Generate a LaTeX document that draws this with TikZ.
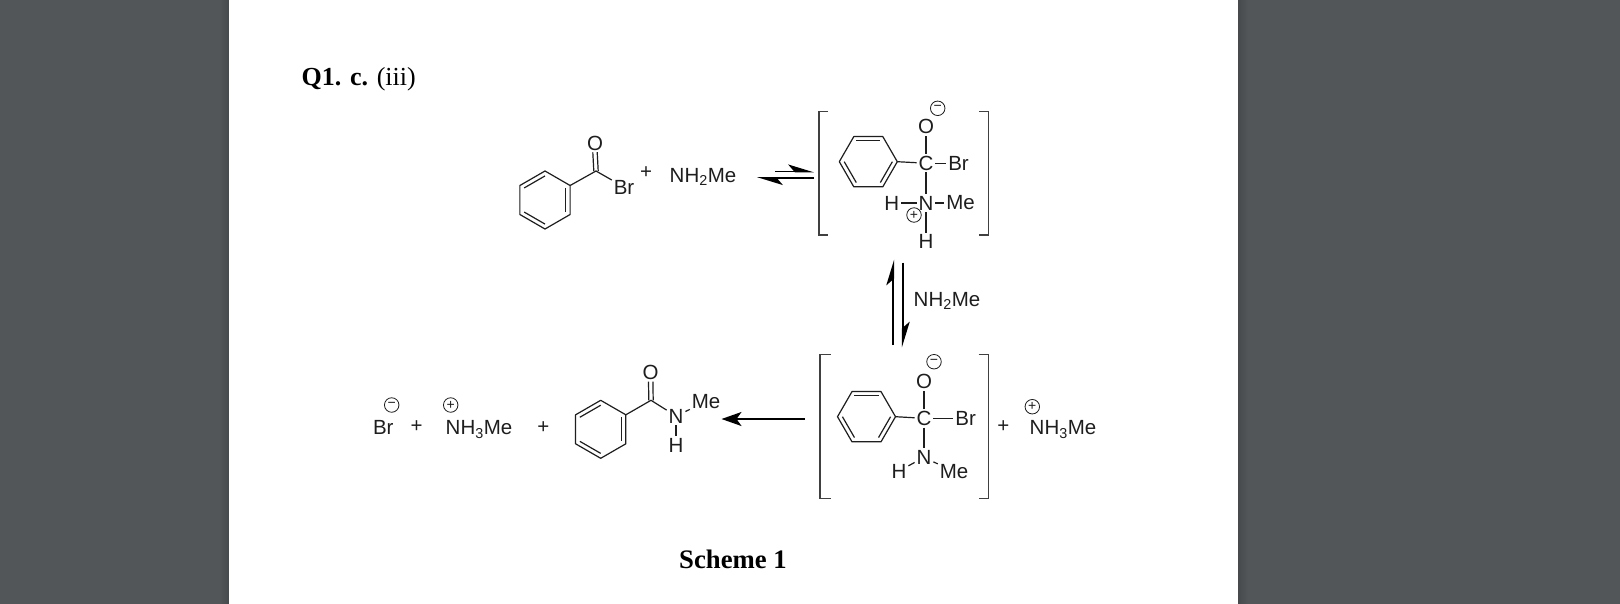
\documentclass[tikz,border=0pt]{standalone}
\usepackage{fontspec}
\setmainfont{Liberation Serif}
\newfontfamily\chemfont{Liberation Sans}
\usetikzlibrary{calc,arrows.meta}
\definecolor{viewer}{HTML}{525659}
\definecolor{viewerdark}{HTML}{464A4D}
\definecolor{ink}{HTML}{1E1E1E}
\tikzset{
  x=1pt,y=-1pt,
  atom/.style={font=\chemfont\fontsize{20.5}{22}\selectfont,text=ink,inner sep=1.8pt},
  plain/.style={font=\chemfont\fontsize{20.5}{22}\selectfont,text=ink,inner sep=0pt},
  charge/.style={circle,draw=ink,line width=.8pt,inner sep=0pt,minimum size=14.5pt,text=ink,font=\chemfont\fontsize{14}{14}\selectfont},
  bond/.style={draw=ink,line width=1.2pt},
  brk/.style={draw=ink!85,line width=1.3pt},
  rxn/.style={draw=black,line width=1.7pt},
  headline/.style={font=\fontsize{26}{30}\selectfont,text=black,inner sep=0pt},
}
% \ring{name}{cx}{cy}{radius}{start angle}: hexagon with three inner double-bond lines
\newcommand{\ring}[5]{%
  \coordinate (#1c) at (#2,#3);
  \foreach \i in {0,...,5}{\coordinate (#1\i) at ($(#1c)+({#4*cos(#5+60*\i)},{#4*sin(#5+60*\i)})$);}
  \draw[bond,line join=round] (#10)--(#11)--(#12)--(#13)--(#14)--(#15)--cycle;
  \foreach \a/\b in {0/1,2/3,4/5}{\draw[bond] ($(#1\a)!.17!(#1c)$) -- ($(#1\b)!.17!(#1c)$);}
}
\newcommand{\dbl}[2]{%
  \draw[bond] ($(#1)!2.2pt!90:(#2)$) -- ($(#2.south)!2.2pt!-90:(#1)$);
  \draw[bond] ($(#1)!2.2pt!-90:(#2)$) -- ($(#2.south)!2.2pt!90:(#1)$);
}
\begin{document}
\begin{tikzpicture}
\useasboundingbox (0,0) rectangle (1620,603);
\fill[viewer] (-5,-5) rectangle (1625,610);
\shade[left color=viewer,right color=viewerdark] (219,-5) rectangle (229,610);
\shade[left color=viewerdark,right color=viewer] (1238,-5) rectangle (1248,610);
\fill[white] (229,-5) rectangle (1238,610);

\node[headline,anchor=base west] (title) at (301.5,85) {\textbf{Q1. c.} (iii)};
\node[headline,anchor=base,font=\fontsize{26.7}{30}\selectfont] (cap) at (733,568) {\textbf{Scheme 1}};

% --- benzoyl bromide
\ring{a}{545}{200}{29}{-30}
\coordinate (aC) at (596,171);
\node[atom] (aO) at (595,143) {O};
\node[atom] (aBr) at (624,187) {Br};
\draw[bond] (a0) -- (aC) -- (aBr);
\dbl{aC}{aO}
\node[plain] (plus1) at (646,173) {+};
\node[plain] (amine1) at (703,177) {NH\textsubscript{2}Me};

% --- equilibrium 1
\coordinate (e1a) at (775,171.5); \coordinate (e1b) at (814,171.5);
\coordinate (e1c) at (814,178); \coordinate (e1d) at (757,178);
\draw[rxn,-{Stealth[harpoon,length=23pt,width=14pt,inset=6pt]}] (e1a) -- (e1b);
\draw[rxn,-{Stealth[harpoon,length=23pt,width=14pt,inset=6pt]}] (e1c) -- (e1d);

% --- tetrahedral intermediate 1
\coordinate (b1l) at (828,111.5); \coordinate (b1L) at (819,111.5);
\coordinate (b2l) at (819,235); \coordinate (b3l) at (828,235);
\draw[brk] (b1l) -- (b1L) -- (b2l) -- (b3l);
\coordinate (b1r) at (979,111.5); \coordinate (b1R) at (988.5,111.5);
\coordinate (b2r) at (988.5,235); \coordinate (b3r) at (979,235);
\draw[brk] (b1r) -- (b1R) -- (b2r) -- (b3r);
\ring{b}{868.3}{161.7}{29}{0}
\node[atom] (bC) at (926,163.2) {C};
\node[atom] (bO) at (926,126.7) {O};
\node[charge] (bm) at (937.7,108.3) {−};
\node[atom] (bBr) at (958.5,163.2) {Br};
\node[atom] (bN) at (926,203) {N};
\node[atom] (bH) at (891.7,203) {H};
\node[atom] (bMe) at (960.5,203) {Me};
\node[charge] (bp) at (914,215) {+};
\node[atom] (bH2) at (926,241.7) {H};
\draw[bond] (b0) -- (bC);
\draw[bond] (bC) -- (bO);
\draw[bond] (bC) -- (bBr);
\draw[bond] (bC) -- (bN);
\draw[bond] (bH) -- (bN);
\draw[bond] (bN) -- (bMe);
\draw[bond] (bN) -- (bH2);

% --- equilibrium 2
\coordinate (e2a) at (893.3,345); \coordinate (e2b) at (893.3,259.5);
\coordinate (e2c) at (902.7,262.5); \coordinate (e2d) at (902.7,347.5);
\draw[rxn,-{Stealth[harpoon,length=23pt,width=14pt,inset=6pt]}] (e2a) -- (e2b);
\draw[rxn,-{Stealth[harpoon,length=23pt,width=14pt,inset=6pt]}] (e2c) -- (e2d);
\node[plain] (amine2) at (947,301) {NH\textsubscript{2}Me};

% --- tetrahedral intermediate 2
\coordinate (c1l) at (830.5,354.5); \coordinate (c1L) at (820,354.5);
\coordinate (c2l) at (820,498.5); \coordinate (c3l) at (830.5,498.5);
\draw[brk] (c1l) -- (c1L) -- (c2l) -- (c3l);
\coordinate (c1r) at (978.5,354.5); \coordinate (c1R) at (988.5,354.5);
\coordinate (c2r) at (988.5,498.5); \coordinate (c3r) at (978.5,498.5);
\draw[brk] (c1r) -- (c1R) -- (c2r) -- (c3r);
\ring{c}{866.5}{416.7}{29}{0}
\node[atom] (cC) at (924,418.3) {C};
\node[atom] (cO) at (924,381.7) {O};
\node[charge] (cm) at (934,361.7) {−};
\node[atom] (cBr) at (965.7,418.3) {Br};
\node[atom] (cN) at (924,457.3) {N};
\node[atom] (cH) at (899,471) {H};
\node[atom] (cMe) at (954,471.7) {Me};
\draw[bond] (c0) -- (cC);
\draw[bond] (cC) -- (cO);
\draw[bond] (cC) -- (cBr);
\draw[bond] (cC) -- (cN);
\draw[bond] (cN) -- (cH);
\draw[bond] (cN) -- (cMe);
\node[plain] (plus2) at (1003.3,426.7) {+};
\node[charge] (cp) at (1032.3,406.7) {+};
\node[plain] (amm1) at (1063,429.5) {NH\textsubscript{3}Me};

% --- forward arrow
\coordinate (f1) at (805,419); \coordinate (f2) at (721.5,419);
\draw[rxn,-{Stealth[length=20pt,width=14pt,inset=5pt]}] (f1) -- (f2);

% --- products
\ring{d}{600.7}{429.3}{29}{-30}
\coordinate (dC) at (651,400.3);
\node[atom] (dO) at (650.7,372.3) {O};
\node[atom] (dN) at (676,416) {N};
\node[atom] (dMe) at (706,401.7) {Me};
\node[atom] (dH) at (676,445) {H};
\draw[bond] (d0) -- (dC) -- (dN);
\dbl{dC}{dO}
\draw[bond] (dN) -- (dMe);
\draw[bond] (dN) -- (dH);
\node[plain] (plus3) at (543.3,427.3) {+};
\node[plain] (amm2) at (479,429.5) {NH\textsubscript{3}Me};
\node[charge] (ap) at (450.7,405) {+};
\node[plain] (plus4) at (416.7,426.7) {+};
\node[plain] (br) at (383.3,427.5) {Br};
\node[charge] (bm2) at (391.7,405) {−};
\end{tikzpicture}
\end{document}
